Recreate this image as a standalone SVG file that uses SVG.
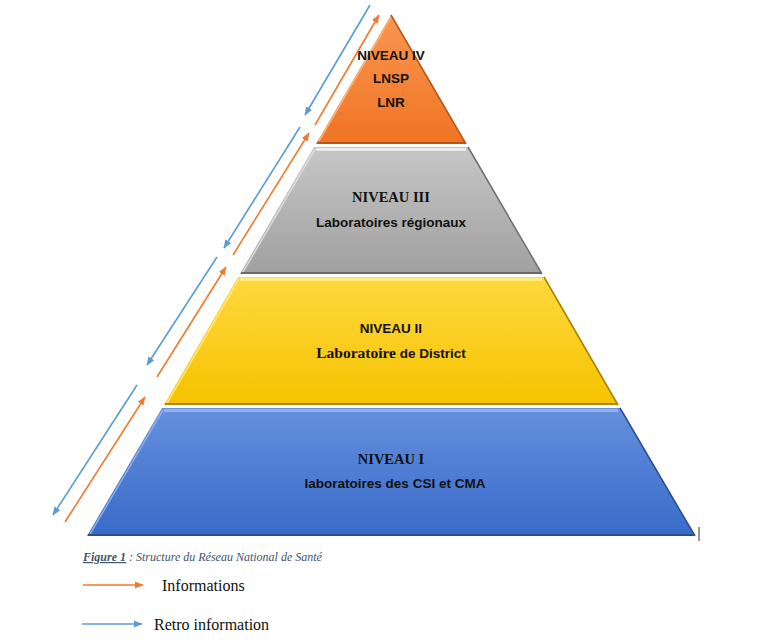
<svg xmlns="http://www.w3.org/2000/svg" width="768" height="640" viewBox="0 0 768 640">
<defs>
<linearGradient id="gOrange" x1="0" y1="0" x2="0" y2="1">
<stop offset="0" stop-color="#F9964F"/><stop offset="1" stop-color="#F07424"/>
</linearGradient>
<linearGradient id="gGray" x1="0" y1="0" x2="0" y2="1">
<stop offset="0" stop-color="#C6C6C6"/><stop offset="1" stop-color="#A0A0A0"/>
</linearGradient>
<linearGradient id="gYellow" x1="0" y1="0" x2="0" y2="1">
<stop offset="0" stop-color="#FFD83E"/><stop offset="1" stop-color="#F5C300"/>
</linearGradient>
<linearGradient id="gBlue" x1="0" y1="0" x2="0" y2="1">
<stop offset="0" stop-color="#6690DE"/><stop offset="1" stop-color="#386AC8"/>
</linearGradient>
<marker id="mO" markerWidth="9" markerHeight="8" refX="8" refY="4" orient="auto" markerUnits="userSpaceOnUse">
<path d="M0,0.5 L8.5,4 L0,7.5 z" fill="#F07B2E"/>
</marker>
<marker id="mB" markerWidth="9" markerHeight="8" refX="8" refY="4" orient="auto" markerUnits="userSpaceOnUse">
<path d="M0,0.5 L8.5,4 L0,7.5 z" fill="#5B9BD5"/>
</marker>
</defs>
<style>
.sans{font-family:"Liberation Sans",Arial,sans-serif;font-weight:bold;font-size:13.5px;fill:#111;text-anchor:middle}
.serif{font-family:"Liberation Serif","Times New Roman",serif;font-weight:bold;font-size:14.5px;fill:#111;text-anchor:middle}
.ao{stroke:#F07B2E;stroke-width:1.6;fill:none;marker-end:url(#mO)}
.ab{stroke:#5B9BD5;stroke-width:1.6;fill:none;marker-end:url(#mB)}
.leg{font-family:"Liberation Serif","Times New Roman",serif;font-size:16px;fill:#111}
.cap{font-family:"Liberation Serif","Times New Roman",serif;font-style:italic;font-size:12px;fill:#44546A}
</style>

<g id="niveau4">
<polygon points="391,15 466,144 316,144" fill="url(#gOrange)"/>
<line x1="391" y1="17" x2="319" y2="141" stroke="#FBB27E" stroke-width="1.5"/>
<line x1="391" y1="15" x2="466" y2="144" stroke="#B4561A" stroke-width="1.5"/>
<line x1="317" y1="143" x2="465" y2="143" stroke="#B4561A" stroke-width="2"/>
<text class="sans" x="391" y="60">NIVEAU IV</text>
<text class="sans" x="391" y="83">LNSP</text>
<text class="sans" x="391" y="107">LNR</text>
</g>

<g id="niveau3">
<polygon points="314,147 468,147 542,274 240,274" fill="url(#gGray)"/>
<line x1="316" y1="149.5" x2="466" y2="149.5" stroke="#ECECEC" stroke-width="3"/>
<line x1="315" y1="149" x2="243" y2="272" stroke="#DCDCDC" stroke-width="1.5"/>
<line x1="468" y1="147" x2="542" y2="274" stroke="#6E6E6E" stroke-width="1.5"/>
<line x1="241" y1="273" x2="541" y2="273" stroke="#6A6A6A" stroke-width="2"/>
<text class="serif" x="391" y="202">NIVEAU III</text>
<text class="sans" x="391" y="227">Laboratoires régionaux</text>
</g>

<g id="niveau2">
<polygon points="238,277 544,277 618,405 164,405" fill="url(#gYellow)"/>
<line x1="240" y1="279.5" x2="542" y2="279.5" stroke="#FFEB80" stroke-width="3"/>
<line x1="239" y1="279" x2="167" y2="403" stroke="#FFE57A" stroke-width="1.5"/>
<line x1="544" y1="277" x2="618" y2="405" stroke="#A58200" stroke-width="1.5"/>
<line x1="165" y1="404" x2="617" y2="404" stroke="#A88600" stroke-width="2"/>
<text class="sans" x="391" y="333">NIVEAU II</text>
<text class="sans" x="391" y="358"><tspan font-family="Liberation Serif, Times New Roman, serif" font-size="15.5px">Laboratoire</tspan> de District</text>
</g>

<g id="niveau1">
<polygon points="162,408 620,408 695,536 87,536" fill="url(#gBlue)"/>
<line x1="164" y1="410.5" x2="618" y2="410.5" stroke="#92B4F2" stroke-width="3"/>
<line x1="163" y1="410" x2="90" y2="534" stroke="#8AAEEE" stroke-width="1.5"/>
<line x1="620" y1="408" x2="695" y2="536" stroke="#284C8E" stroke-width="1.5"/>
<line x1="88" y1="535" x2="694" y2="535" stroke="#2A4E90" stroke-width="2"/>
<text class="serif" x="391" y="464">NIVEAU I</text>
<text class="sans" x="395" y="488">laboratoires des CSI et CMA</text>
</g>

<g id="connectors">
<line class="ab" x1="370" y1="5" x2="305" y2="115"/>
<line class="ab" x1="300" y1="127" x2="224" y2="248"/>
<line class="ab" x1="217" y1="257" x2="147" y2="365"/>
<line class="ab" x1="137" y1="385" x2="53" y2="515"/>
<line class="ao" x1="315" y1="125" x2="379" y2="15"/>
<line class="ao" x1="233" y1="255" x2="309" y2="133"/>
<line class="ao" x1="157" y1="377" x2="226" y2="267"/>
<line class="ao" x1="65" y1="522" x2="145" y2="397"/>
</g>

<line x1="699" y1="527" x2="699" y2="541" stroke="#333" stroke-width="1"/>

<g id="legend">
<text class="cap" x="83" y="561"><tspan font-weight="bold" text-decoration="underline">Figure 1</tspan> : Structure du Réseau National de Santé</text>
<line class="ao" x1="83" y1="585" x2="143" y2="585"/>
<text class="leg" x="162" y="591">Informations</text>
<line class="ab" x1="82" y1="624" x2="142" y2="624"/>
<text class="leg" x="154" y="630">Retro information</text>
</g>
</svg>
